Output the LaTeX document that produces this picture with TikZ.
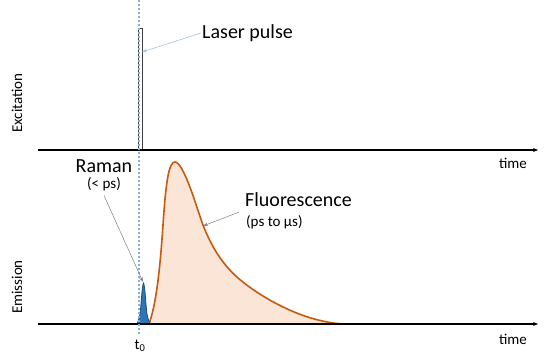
\documentclass[tikz,border=0pt]{standalone}
\usepackage{fontspec}
\setmainfont{Carlito}
\usepackage{tikz}
\usetikzlibrary{positioning, arrows.meta}
\definecolor{arancio}{HTML}{C55A11}
\definecolor{arancioch}{HTML}{FBE5D6}
\definecolor{blu}{HTML}{2E75B6}
\definecolor{bluscuro}{HTML}{1F4E79}
\definecolor{azzurro}{HTML}{7FB2E0}
\definecolor{celeste}{HTML}{9DC3E6}
\tikzset{
	% testo grande
	etichetta/.style={font=\fontsize{20}{22}\selectfont, inner sep=1pt},
	% testo piccolo
	nota/.style={font=\fontsize{15}{17}\selectfont, inner sep=1pt},
	% asse dei tempi
	asse/.style={-{Stealth[length=5pt, width=4pt]}, line width=1.1pt},
	% freccia di richiamo
	richiamo/.style={-{Stealth[length=5pt, width=3.5pt]}, line width=0.5pt, black!50},
	% riferimento t0
	rifer/.style={azzurro, line width=1.3pt, dash pattern=on 2pt off 2pt},
}
% profilo della fluorescenza
\newcommand{\profilofluo}{(149,324) .. controls (156,305) and (160,270) .. (163,225)
    .. controls (166,180) and (169,162) .. (175,162)
    .. controls (184,162) and (198,212) .. (203,225)
    .. controls (210,243) and (220,262) .. (238,278)
    .. controls (253,291) and (296,321) .. (343,324)}

\begin{document}
\begin{tikzpicture}[x=1pt, y=-1pt]
    \useasboundingbox (0,0) rectangle (550,358);

    % ---------------- emissione: fluorescenza e Raman ----------------
    \fill[arancioch] \profilofluo -- cycle;
    \draw[arancio, line width=1.6pt] \profilofluo;
    \filldraw[fill=blu, draw=bluscuro, line width=0.8pt] plot[smooth] coordinates {(137,324) (140,314)
        (142,292) (143.5,283) (145,292) (147,314) (150,324)} -- cycle;

    % ---------------- impulso laser ----------------
    \draw[black!75, fill=white, line width=0.6pt] (138,28) rectangle (142,150);
    \coordinate (laserpt) at (142,52);

    % ---------------- assi ----------------
    \coordinate (ex0) at (38,150);
    \coordinate (ex1) at (538,150);
    \coordinate (em0) at (38,324);
    \coordinate (em1) at (538,324);
    \draw[asse] (ex0) -- (ex1);
    \draw[asse] (em0) -- (em1);
    \node[nota] (time1) at (513,163) {time};
    \node[nota] (time2) at (513,339) {time};
    \node[nota, rotate=90] (exclab) at (17,103) {Excitation};
    \node[nota, rotate=90] (emlab) at (17,287) {Emission};

    % ---------------- riferimento t0 ----------------
    \coordinate (rif0) at (139,0);
    \coordinate (rif1) at (139,336);
    \draw[rifer] (rif0) -- (rif1);
    \node[nota] (tzero) at (140,346) {t\textsubscript{0}};

    % ---------------- etichette ----------------
    \node[etichetta, anchor=west] (lasertxt) at (201,33) {Laser pulse};
    \draw[-{Stealth[length=5pt, width=3.5pt]}, celeste, line width=0.6pt] (lasertxt.west) -- (laserpt);

    \node[etichetta] (ramantxt) at (104,166) {Raman};
    \node[nota, below=3pt of ramantxt] (ramansub) {(< ps)};
    \coordinate (ramanpt) at (143,282);
    \draw[richiamo] (ramansub.south) ++(0,3) -- (ramanpt);

    \node[etichetta, anchor=west] (fluotxt) at (244,200) {Fluorescence};
    \node[nota, anchor=west] (fluosub) at (245,222) {(ps to \textmu s)};
    \coordinate (fluopt) at (203,226);
    \draw[richiamo] (fluosub.north west) ++(-6,-2) -- (fluopt);
  \end{tikzpicture}
\end{document}
